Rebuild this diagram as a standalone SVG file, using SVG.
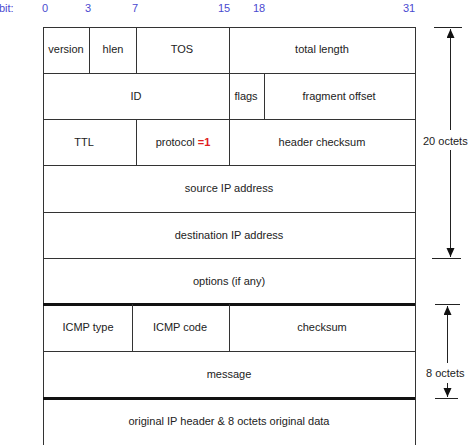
<svg xmlns="http://www.w3.org/2000/svg" width="474" height="445" viewBox="0 0 474 445">
<style>
text{font-family:"Liberation Sans",Arial,sans-serif;font-size:11px;fill:#222}
.bit{fill:#4a4ad0}
.c{text-anchor:middle}
.ln{stroke:#333;stroke-width:1;fill:none}
.thick{stroke:#111;stroke-width:3}
.dim{stroke:#222;stroke-width:1}
.red{fill:#e02020;font-weight:bold}
</style>
<defs>
<marker id="ah" markerWidth="10" markerHeight="10" refX="9" refY="4" orient="auto" markerUnits="userSpaceOnUse">
<path d="M0,0 L9,4 L0,8 Z" fill="#111"/>
</marker>
</defs>
<g id="bits">
<text class="bit" x="-1" y="12">bit:</text>
<text class="bit c" x="45" y="12">0</text>
<text class="bit c" x="88" y="12">3</text>
<text class="bit c" x="135" y="12">7</text>
<text class="bit c" x="224" y="12">15</text>
<text class="bit c" x="259" y="12">18</text>
<text class="bit c" x="409" y="12">31</text>
</g>
<g id="frame">
<rect class="ln" x="43.5" y="27.5" width="372" height="418"/>
</g>
<g id="row1">
<line class="ln" x1="43" y1="73.5" x2="415" y2="73.5"/>
<line class="ln" x1="89.5" y1="27" x2="89.5" y2="73"/>
<line class="ln" x1="136.5" y1="27" x2="136.5" y2="73"/>
<line class="ln" x1="229.5" y1="27" x2="229.5" y2="73"/>
<text class="c" x="66" y="53">version</text>
<text class="c" x="113" y="53">hlen</text>
<text class="c" x="182" y="53">TOS</text>
<text class="c" x="322" y="53">total length</text>
</g>
<g id="row2">
<line class="ln" x1="43" y1="119.5" x2="415" y2="119.5"/>
<line class="ln" x1="229.5" y1="73" x2="229.5" y2="119"/>
<line class="ln" x1="264.5" y1="73" x2="264.5" y2="119"/>
<text class="c" x="136" y="100">ID</text>
<text class="c" x="246" y="100">flags</text>
<text class="c" x="339" y="100">fragment offset</text>
</g>
<g id="row3">
<line class="ln" x1="43" y1="165.5" x2="415" y2="165.5"/>
<line class="ln" x1="136.5" y1="119" x2="136.5" y2="165"/>
<line class="ln" x1="229.5" y1="119" x2="229.5" y2="165"/>
<text class="c" x="84" y="146">TTL</text>
<text class="c" x="183" y="146"><tspan fill="#222">protocol </tspan><tspan class="red">=1</tspan></text>
<text class="c" x="322" y="146">header checksum</text>
</g>
<g id="row4">
<line class="ln" x1="43" y1="212.5" x2="415" y2="212.5"/>
<text class="c" x="229" y="192">source IP address</text>
</g>
<g id="row5">
<line class="ln" x1="43" y1="258.5" x2="415" y2="258.5"/>
<text class="c" x="229" y="239">destination IP address</text>
</g>
<g id="row6">
<line class="thick" x1="43" y1="304.5" x2="415" y2="304.5"/>
<text class="c" x="229" y="285">options (if any)</text>
</g>
<g id="row7">
<line class="ln" x1="43" y1="351.5" x2="415" y2="351.5"/>
<line class="ln" x1="132.5" y1="304" x2="132.5" y2="351"/>
<line class="ln" x1="229.5" y1="304" x2="229.5" y2="351"/>
<text class="c" x="88" y="331">ICMP type</text>
<text class="c" x="180" y="331">ICMP code</text>
<text class="c" x="322" y="331">checksum</text>
</g>
<g id="row8">
<line class="thick" x1="43" y1="398.5" x2="415" y2="398.5"/>
<text class="c" x="229" y="378">message</text>
</g>
<g id="row9">
<text class="c" x="229" y="425">original IP header &amp; 8 octets original data</text>
</g>
<g id="connectors">
<line class="dim" x1="434" y1="27.5" x2="462" y2="27.5"/>
<line class="dim" x1="432" y1="258.5" x2="461" y2="258.5"/>
<line class="dim" x1="450.5" y1="130" x2="450.5" y2="29" marker-end="url(#ah)"/>
<line class="dim" x1="450.5" y1="150" x2="450.5" y2="257" marker-end="url(#ah)"/>
<line class="dim" x1="435" y1="304.5" x2="460" y2="304.5"/>
<line class="dim" x1="435" y1="398.5" x2="458" y2="398.5"/>
<line class="dim" x1="447.5" y1="363" x2="447.5" y2="306" marker-end="url(#ah)"/>
<line class="dim" x1="447.5" y1="383" x2="447.5" y2="397" marker-end="url(#ah)"/>
<text x="423" y="145">20 octets</text>
<text x="426" y="377">8 octets</text>
</g>
</svg>
